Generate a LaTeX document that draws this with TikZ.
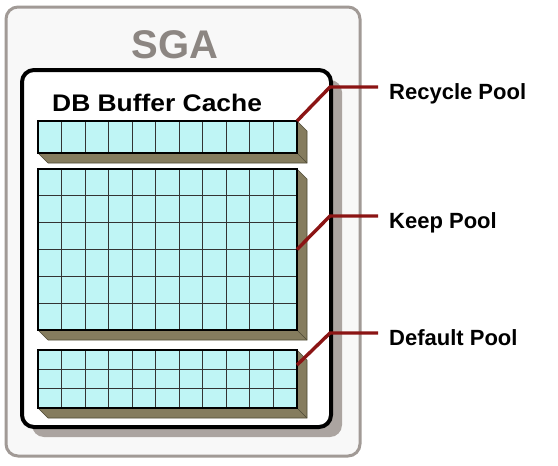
\documentclass[tikz,border=0pt]{standalone}
\usepackage{fontspec}
\setmainfont{Liberation Sans}
\usetikzlibrary{calc}
\definecolor{sgagray}{HTML}{A19A96}
\definecolor{sgatext}{HTML}{8C8682}
\definecolor{sgabg}{HTML}{F8F8F8}
\definecolor{shadowgray}{HTML}{ABA4A0}
\definecolor{cellfill}{HTML}{BFF5F5}
\definecolor{depthfill}{HTML}{857C5E}
\definecolor{depthedge}{HTML}{4E4A36}
\definecolor{leaderred}{HTML}{8B1414}
\newcommand{\drawpool}[6]{%
  \fill[depthfill] (#2,#5) -- (#4,#5) -- (#4,#3) -- ($(#4,#3)+(10,10)$) -- ($(#4,#5)+(10,10)$) -- ($(#2,#5)+(10,10)$) -- cycle;
  \draw[depthedge, line width=0.6] ($(#2,#5)+(10,10)$) -- ($(#4,#5)+(10,10)$) -- ($(#4,#3)+(10,10)$) -- (#4,#3);
  \draw[depthedge, line width=0.6] (#2,#5) -- ++(10,10);
  \draw[depthedge, line width=0.6] (#4,#5) -- ++(10,10);
  \node[poolbox, minimum width=#4-#2, minimum height=#5-#3, anchor=north west] (#1) at (#2,#3) {};
  \foreach \i in {1,...,10}
    \draw[gridline] ($(#1.north west)!\i/11!(#1.north east)$) -- ($(#1.south west)!\i/11!(#1.south east)$);
  \ifnum#6>1
    \foreach \j in {1,...,\numexpr#6-1\relax}
      \draw[gridline] ($(#1.north west)!\j/#6!(#1.south west)$) -- ($(#1.north east)!\j/#6!(#1.south east)$);
  \fi
  \draw[line width=2.2] (#1.north west) rectangle (#1.south east);
}
\begin{document}
\begin{tikzpicture}[x=1pt,y=-1pt,
  poolbox/.style={fill=cellfill, draw=none, inner sep=0, outer sep=0},
  gridline/.style={line width=0.9, draw=black!80},
  leader/.style={draw=leaderred, line width=3.4},
  poollabel/.style={font=\bfseries\fontsize{22}{22}\selectfont, inner sep=0, anchor=base west}]
\useasboundingbox (0,0) rectangle (558,466);
\fill[white] (0,0) rectangle (558,466);
% SGA frame
\draw[sgagray, line width=3, fill=sgabg, rounded corners=12] (6,7) rectangle (360,456);
\node[font=\bfseries\fontsize{40}{40}\selectfont, text=sgatext, inner sep=0, anchor=base] (sga) at (175,58) {SGA};
% DB buffer cache box
\fill[shadowgray, rounded corners=12] (32,80) rectangle (342,437);
\draw[black, line width=4, fill=white, rounded corners=12] (22,70) rectangle (331,427);
\node[font=\bfseries\fontsize{24}{24}\selectfont, inner sep=0, anchor=base west, xscale=1.1] (cache) at (52,111) {DB Buffer Cache};
% pools
\drawpool{recycle}{38}{121}{297}{153}{1}
\drawpool{keep}{38}{169}{297}{330}{6}
\drawpool{default}{38}{350}{297}{408}{3}
% labels
\node[poollabel] (rl) at (389,99) {Recycle Pool};
\node[poollabel] (kl) at (389,228) {Keep Pool};
\node[poollabel] (dl) at (389,345) {Default Pool};
\coordinate (rb) at (330,87);  \coordinate (re) at (378,87);
\coordinate (kb) at (330,216); \coordinate (ke) at (378,216);
\coordinate (db) at (330,333); \coordinate (de) at (378,333);
\coordinate (ds) at ($(default.north east)+(0,15)$);
\draw[leader] (recycle.north east) -- (rb) -- (re);
\draw[leader] (keep.east) -- (kb) -- (ke);
\draw[leader] (ds) -- (db) -- (de);
\end{tikzpicture}
\end{document}
